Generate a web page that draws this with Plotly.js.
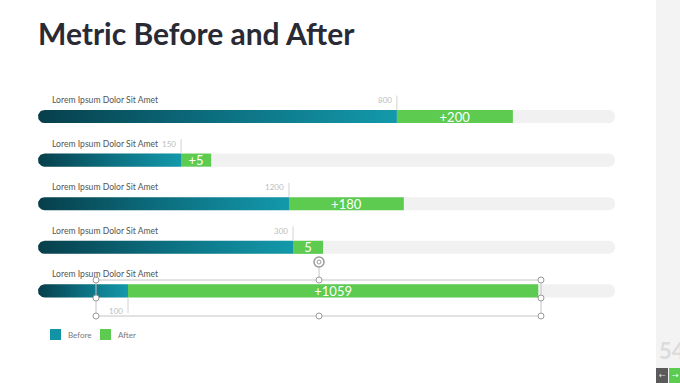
<!DOCTYPE html>
<html>
<head>
<meta charset="utf-8">
<script src="https://cdn.plot.ly/plotly-3.0.1.min.js"></script>
<style>html,body{margin:0;padding:0;background:#fff;}#chart{width:680px;height:383px;}</style>
</head>
<body>
<div id="chart"></div>
<script>
// ---- data ----
const categories = ["Lorem Ipsum Dolor Sit Amet","Lorem Ipsum Dolor Sit Amet","Lorem Ipsum Dolor Sit Amet","Lorem Ipsum Dolor Sit Amet","Lorem Ipsum Dolor Sit Amet"];
const beforeValues = [800, 150, 1200, 300, 100];
const afterLabels = ["+200", "+5", "+180", "5", "+1059"];
// displayed bar lengths, in percent of the full track
const beforeLen = [62.2, 24.8, 43.5, 44.2, 15.6];
const afterLen = [20.1, 5.2, 19.9, 5.2, 71.1];
const trackLen = [100, 100, 100, 100, 100];
const legendNames = ["Before", "After"];

// ---- geometry helpers ----
const W = 680, H = 383;
const X0 = 38, X1 = 615;            // track pixel span
const Y0 = 116.5, DY = 43.6;        // first row centre & row spacing in px
const pxPerX = (X1 - X0) / 100;
const barH = 0.3;                   // bar thickness in row units
const half = barH / 2;
const capPx = half * DY;            // cap radius in px
const capR = capPx / pxPerX;        // cap radius in x units
const px = v => v / W, py = v => 1 - v / H;
const rows = categories.map((c, i) => i);

function roundedLeftPoly(x0, x1, yc) {
  const xs = [x1, x1], ys = [yc + half, yc - half];
  const N = 18;
  for (let k = 0; k <= N; k++) { const a = Math.PI/2 + Math.PI*k/N; xs.push(x0 + capR + capR*Math.cos(a)); ys.push(yc - half*Math.sin(a)); }
  xs.push(xs[0]); ys.push(ys[0]);
  return {xs, ys};
}

const traces = [];
// track (its left end sits under the rounded cap of the "before" bar)
traces.push({type:'bar', orientation:'h', y:rows, x:trackLen.map(v => v - capR), base:rows.map(() => capR), width:barH,
  marker:{color:'#f1f1f1', line:{width:0}, cornerradius:capPx}, hoverinfo:'skip', showlegend:false});
// after bars
traces.push({type:'bar', orientation:'h', y:rows, x:afterLen, base:beforeLen, width:barH,
  marker:{color:'#5ccb4f', line:{width:0}}, text:afterLabels, textposition:'inside', insidetextanchor:'middle',
  textangle:0, textfont:{color:'#ffffff', size:13, family:'Lato, sans-serif'}, constraintext:'none',
  hoverinfo:'skip', showlegend:false, name:legendNames[1]});
// before bars (gradient, rounded left end)
rows.forEach(i => {
  const p = roundedLeftPoly(0, beforeLen[i], i);
  traces.push({type:'scatter', mode:'lines', x:p.xs, y:p.ys, fill:'toself',
    fillcolor:'#1196a8',
    fillgradient:{type:'horizontal', colorscale:[[0,'#073f4b'],[0.5,'#0c6f80'],[1,'#1399ab']]},
    line:{width:0, color:'rgba(0,0,0,0)'}, hoverinfo:'skip', showlegend:false, name:legendNames[0]});
});

const annotations = [];
const shapes = [];
// title
annotations.push({xref:'paper', yref:'paper', x:px(36), y:py(33), xanchor:'left', yanchor:'middle', showarrow:false,
  text:'<b>Metric Before and After</b>', font:{family:'Lato, sans-serif', size:30, color:'#2a2a35'}});
rows.forEach(i => {
  annotations.push({xref:'paper', yref:'y', x:px(50), y:i - 0.38, xanchor:'left', yanchor:'middle', showarrow:false,
    text:categories[i], font:{family:'Lato, sans-serif', size:8.6, color:'#555'}});
  const below = i === rows.length - 1;
  const ty = below ? i + half + 0.32 : i - 0.38;
  annotations.push({xref:'x', yref:'y', x:beforeLen[i], y:ty, xanchor:'right', yanchor:'middle', xshift:-3, showarrow:false,
    text:String(beforeValues[i]), font:{family:'Lato, sans-serif', size:8, color:'#bdbdbd'}});
  shapes.push({type:'line', xref:'x', yref:'y', x0:beforeLen[i], x1:beforeLen[i],
    y0: below ? i + half : i - half, y1: below ? i + half + 0.36 : i - half - 0.33, line:{color:'#d2d2d2', width:1}});
});
// legend
shapes.push({type:'rect', xref:'paper', yref:'paper', x0:px(50), x1:px(61), y0:py(329), y1:py(340), fillcolor:'#1294a6', line:{width:0}});
shapes.push({type:'rect', xref:'paper', yref:'paper', x0:px(100), x1:px(111), y0:py(329), y1:py(340), fillcolor:'#5ccb4f', line:{width:0}});
annotations.push({xref:'paper', yref:'paper', x:px(66), y:py(335), xanchor:'left', yanchor:'middle', showarrow:false, text:legendNames[0], font:{family:'Lato, sans-serif', size:8, color:'#777'}});
annotations.push({xref:'paper', yref:'paper', x:px(116), y:py(335), xanchor:'left', yanchor:'middle', showarrow:false, text:legendNames[1], font:{family:'Lato, sans-serif', size:8, color:'#777'}});
// selection overlay (slide editor chrome)
const sx0 = 96, sx1 = 541, sy0 = 280, sy1 = 316, sxm = 319, sym = 298;
shapes.push({type:'rect', xref:'paper', yref:'paper', x0:px(sx0), x1:px(sx1), y0:py(sy0), y1:py(sy1), line:{color:'#c4c4c4', width:1}, fillcolor:'rgba(0,0,0,0)'});
shapes.push({type:'line', xref:'paper', yref:'paper', x0:px(sxm), x1:px(sxm), y0:py(sy0), y1:py(267), line:{color:'#c4c4c4', width:1}});
[[sx0,sy0],[sxm,sy0],[sx1,sy0],[sx0,sym],[sx1,sym],[sx0,sy1],[sxm,sy1],[sx1,sy1]].forEach(([hx,hy]) => {
  shapes.push({type:'circle', xref:'paper', yref:'paper', x0:px(hx-3), x1:px(hx+3), y0:py(hy-3), y1:py(hy+3), fillcolor:'#ffffff', line:{color:'#9a9a9a', width:1}});
});
shapes.push({type:'circle', xref:'paper', yref:'paper', x0:px(sxm-5), x1:px(sxm+5), y0:py(257), y1:py(267), fillcolor:'#ffffff', line:{color:'#9a9a9a', width:1.5}});
shapes.push({type:'circle', xref:'paper', yref:'paper', x0:px(sxm-2), x1:px(sxm+2), y0:py(260), y1:py(264), fillcolor:'#ffffff', line:{color:'#9a9a9a', width:1}});
// right side panel
shapes.push({type:'rect', xref:'paper', yref:'paper', x0:px(656), x1:px(680), y0:py(0), y1:py(383), fillcolor:'#f3f3f3', line:{width:0}, layer:'below'});
annotations.push({xref:'paper', yref:'paper', x:px(657), y:py(350), xanchor:'left', yanchor:'middle', showarrow:false, text:'<b>54</b>', font:{family:'Lato, sans-serif', size:22, color:'#dcdcdc'}});
shapes.push({type:'rect', xref:'paper', yref:'paper', x0:px(656), x1:px(668), y0:py(368), y1:py(383), fillcolor:'#5a5a5a', line:{width:0}});
shapes.push({type:'rect', xref:'paper', yref:'paper', x0:px(669), x1:px(680), y0:py(368), y1:py(383), fillcolor:'#5ccb4f', line:{width:0}});
annotations.push({xref:'paper', yref:'paper', x:px(662), y:py(375.5), xanchor:'center', yanchor:'middle', showarrow:false, text:'←', font:{family:'DejaVu Sans', size:8, color:'#ddd'}});
annotations.push({xref:'paper', yref:'paper', x:px(675), y:py(375.5), xanchor:'center', yanchor:'middle', showarrow:false, text:'→', font:{family:'DejaVu Sans', size:8, color:'#fff'}});

const layout = {
  width: W, height: H,
  margin:{l:0, r:0, t:0, b:0, pad:0},
  paper_bgcolor:'#ffffff', plot_bgcolor:'rgba(0,0,0,0)',
  showlegend:false,
  barmode:'overlay',
  xaxis:{domain:[X0/W, X1/W], range:[0,100], visible:false, fixedrange:true},
  yaxis:{domain:[0,1], range:[(H - Y0)/DY, -Y0/DY], visible:false, fixedrange:true},
  annotations, shapes
};
Plotly.newPlot('chart', traces, layout, {staticPlot:true, displayModeBar:false});
</script>
</body>
</html>
